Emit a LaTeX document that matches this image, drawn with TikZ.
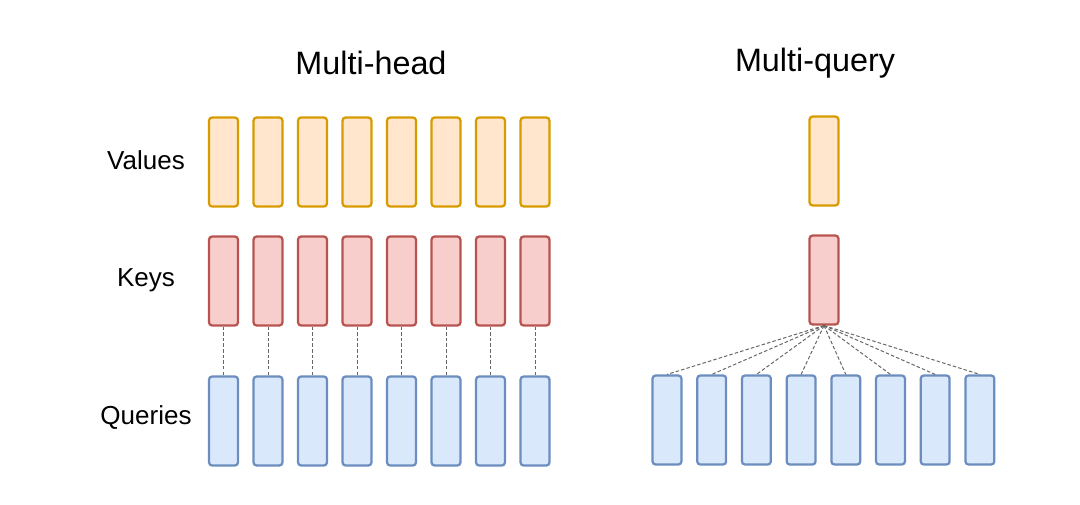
\documentclass[tikz,border=0pt]{standalone}
\usepackage{fontspec}
\setmainfont{Liberation Sans}
\definecolor{valfill}{HTML}{FFE6CC}\definecolor{valdraw}{HTML}{D79B00}
\definecolor{keyfill}{HTML}{F8CECC}\definecolor{keydraw}{HTML}{B85450}
\definecolor{qryfill}{HTML}{DAE8FC}\definecolor{qrydraw}{HTML}{6C8EBF}
\tikzset{
  bar/.style={rectangle, rounded corners=2pt, line width=1.6pt, minimum width=0.72cm, minimum height=2.22cm, inner sep=0pt},
  val/.style={bar, draw=valdraw, fill=valfill},
  key/.style={bar, draw=keydraw, fill=keyfill},
  qry/.style={bar, draw=qrydraw, fill=qryfill},
  link/.style={dash pattern=on 2.5pt off 1.5pt, draw=gray!80!black, line width=0.7pt},
  lbl/.style={font=\fontsize{18.5}{22}\selectfont},
  ttl/.style={font=\fontsize{23}{27}\selectfont}
}
\begin{document}
\begin{tikzpicture}[x=0.025cm, y=-0.025cm]
    \useasboundingbox (0,0) rectangle (1080,505);
    \node[ttl] (mh) at (371,63) {Multi-head};
    \node[ttl] (mq) at (815,63) {Multi-query};
    \node[lbl] (lv) at (146,160) {Values};
    \node[lbl] (lk) at (146,280) {Keys};
    \node[lbl] (lq) at (146,418) {Queries};

    % multi-head
    \foreach \i in {0,...,7} {
        \node[val] (v\i) at (223.5+44.5*\i,162) {};
        \node[key] (k\i) at (223.5+44.5*\i,281) {};
        \node[qry] (q\i) at (223.5+44.5*\i,421) {};
        \draw[link] (k\i) -- (q\i);
    }

    % multi-query
    \node[val] (mv) at (824,161) {};
    \node[key] (mk) at (824,280) {};
    \foreach \i in {0,...,7} {
        \node[qry] (mq\i) at (667+44.7*\i,420) {};
        \draw[link] (mk.south) -- (mq\i.north);
    }
\end{tikzpicture}
\end{document}
